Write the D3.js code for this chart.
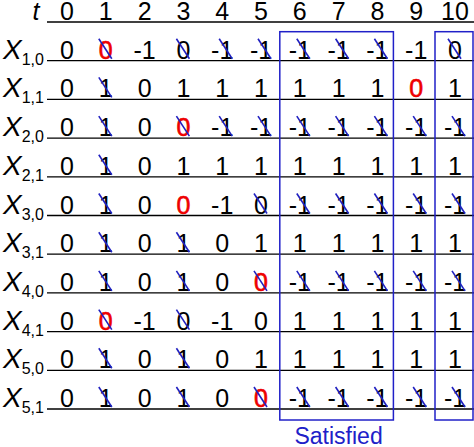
<!DOCTYPE html><html><head><meta charset="utf-8">
<script src="https://cdn.jsdelivr.net/npm/d3@7"></script>
<style>body{margin:0;background:#fff}</style></head><body><svg id="c" width="474" height="447"></svg>
<script>
const times=[0,1,2,3,4,5,6,7,8,9,10];
const rowLabels=[["1","0"],["1","1"],["2","0"],["2","1"],["3","0"],["3","1"],["4","0"],["4","1"],["5","0"],["5","1"]];
// value tokens; suffix s = struck, r = red
const rows=[
"0 0rs -1 0s -1s -1s -1s -1s -1s -1 0s",
"0 1s 0 1 1 1 1 1 1 0r 1",
"0 1s 0 0rs -1s -1s -1s -1s -1s -1s -1s",
"0 1s 0 1 1 1 1 1 1 1 1",
"0 1s 0 0r -1 0s -1s -1s -1s -1s -1s",
"0 1s 0 1s 0 1 1 1 1 1 1",
"0 1s 0 1s 0 0rs -1s -1s -1s -1s -1s",
"0 0rs -1 0s -1 0 1 1 1 1 1",
"0 1s 0 1s 0 1 1 1 1 1 1",
"0 1s 0 1s 0 0rs -1s -1s -1s -1s -1s"];
const boxes=[[6,8],[10,10]];
const boxLabel="Satisfied";
const svg=d3.select("#c");
const x=d3.scalePoint().domain(times).range([67,455]);
const y=d3.scalePoint().domain(d3.range(-1,rows.length)).range([20,407]);
const font="Liberation Sans, Arial, sans-serif";
svg.append("text").attr("x",36).attr("y",y(-1)).attr("font-family",font).attr("font-size",25).attr("font-style","italic").attr("text-anchor","middle").text("t");
svg.selectAll(".h").data(times).join("text").attr("x",d=>x(d)).attr("y",y(-1)).attr("font-family",font).attr("font-size",25).attr("text-anchor","middle").text(d=>d);
const lineIdx=d3.range(-1,rows.length);
svg.selectAll(".ln").data(lineIdx).join("line").attr("x1",47).attr("x2",474).attr("y1",d=>y(d)+2).attr("y2",d=>y(d)+2).attr("stroke","#000").attr("stroke-width",1.3);
rowLabels.forEach((l,i)=>{
 const t=svg.append("text").attr("x",3).attr("y",y(i)).attr("font-family",font).attr("font-size",28);
 t.append("tspan").attr("font-style","italic").text("X");
 t.append("tspan").attr("font-size",16).attr("dy",6).text(l[0]+","+l[1]);
});
rows.forEach((r,i)=>{
 r.split(" ").forEach((tok,j)=>{
  const m=tok.match(/^(-?\d)([rs]*)$/);
  const v=m[1],red=m[2].includes("r"),st=m[2].includes("s");
  const cx=x(times[j]),cy=y(i);
  svg.append("text").attr("x",cx).attr("y",cy).attr("font-family",font).attr("font-size",25).attr("text-anchor","middle").attr("fill",red?"#e00":"#000").attr("stroke",red?"#e00":"none").attr("stroke-width",0.6).text(v);
  if(st){const ox=v.startsWith("-")?4:0;
   svg.append("line").attr("x1",cx+ox-7).attr("y1",cy-20).attr("x2",cx+ox+6).attr("y2",cy).attr("stroke","#2020c0").attr("stroke-width",1.6);}
 });
});
boxes.forEach(b=>{
 svg.append("rect").attr("x",x(b[0])-20).attr("y",y(0)-27).attr("width",x(b[1])-x(b[0])+(b[0]===b[1]?38:36)).attr("height",y(rows.length-1)-y(0)+40).attr("fill","none").attr("stroke","#2020c8").attr("stroke-width",1.5);
});
svg.append("text").attr("x",(x(6)+x(8))/2).attr("y",444).attr("font-family",font).attr("font-size",23).attr("fill","#2020c8").attr("text-anchor","middle").text(boxLabel);
</script></body></html>
